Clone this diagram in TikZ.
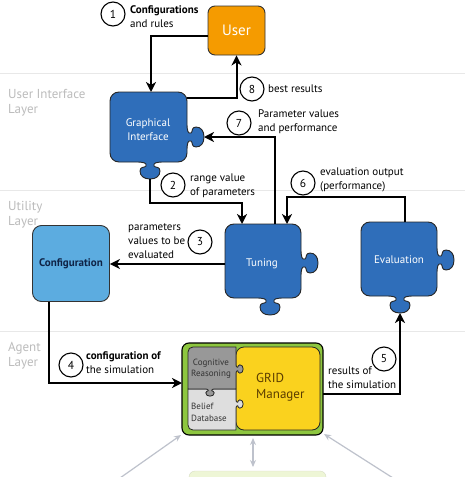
\documentclass[tikz,border=0pt]{standalone}
\usepackage{fontspec}
\setmainfont{PT Sans}
\usetikzlibrary{arrows.meta,calc}
\definecolor{pblue}{RGB}{47,110,186}
\definecolor{cblue}{RGB}{92,172,224}
\definecolor{uorange}{RGB}{245,155,0}
\definecolor{ggreen}{RGB}{141,198,63}
\definecolor{gyellow}{RGB}{250,210,30}
\definecolor{cgray}{RGB}{152,152,152}
\definecolor{bgray}{RGB}{222,222,222}
\definecolor{laygray}{RGB}{188,188,188}
\definecolor{sepgray}{RGB}{232,232,232}
\definecolor{navy}{RGB}{15,35,70}
\definecolor{gbrown}{RGB}{90,60,0}
\definecolor{botgray}{RGB}{190,194,204}
\definecolor{botgreen}{RGB}{238,246,214}
% right-edge tab (edge runs downward), X, cy, scale
\newcommand\tabR[3]{-- ({#1},{#2-14*#3})
 .. controls ({#1},{#2-6*#3}) and ({#1+1*#3},{#2-3*#3}) .. ({#1+4*#3},{#2-4*#3})
 .. controls ({#1+6*#3},{#2-5*#3}) and ({#1+4*#3},{#2-10*#3}) .. ({#1+9*#3},{#2-10*#3})
 .. controls ({#1+14*#3},{#2-10*#3}) and ({#1+17*#3},{#2-6*#3}) .. ({#1+17*#3},{#2})
 .. controls ({#1+17*#3},{#2+6*#3}) and ({#1+14*#3},{#2+10*#3}) .. ({#1+9*#3},{#2+10*#3})
 .. controls ({#1+4*#3},{#2+10*#3}) and ({#1+6*#3},{#2+5*#3}) .. ({#1+4*#3},{#2+4*#3})
 .. controls ({#1+1*#3},{#2+3*#3}) and ({#1},{#2+6*#3}) .. ({#1},{#2+14*#3})}
% bottom-edge tab (edge runs leftward), cx, Y, scale
\newcommand\tabB[3]{-- ({#1+14*#3},{#2})
 .. controls ({#1+6*#3},{#2}) and ({#1+3*#3},{#2+1*#3}) .. ({#1+4*#3},{#2+4*#3})
 .. controls ({#1+5*#3},{#2+6*#3}) and ({#1+10*#3},{#2+4*#3}) .. ({#1+10*#3},{#2+9*#3})
 .. controls ({#1+10*#3},{#2+14*#3}) and ({#1+6*#3},{#2+17*#3}) .. ({#1},{#2+17*#3})
 .. controls ({#1-6*#3},{#2+17*#3}) and ({#1-10*#3},{#2+14*#3}) .. ({#1-10*#3},{#2+9*#3})
 .. controls ({#1-10*#3},{#2+4*#3}) and ({#1-5*#3},{#2+6*#3}) .. ({#1-4*#3},{#2+4*#3})
 .. controls ({#1-3*#3},{#2+1*#3}) and ({#1-6*#3},{#2}) .. ({#1-14*#3},{#2})}
% puzzle piece: L T R B cy cx   (corner radius 9)
\newcommand\puzzlepiece[6]{\path[piece] ({#1+9},{#2}) -- ({#3-9},{#2})
 .. controls ({#3-4},{#2}) and ({#3},{#2+4}) .. ({#3},{#2+9})
 \tabR{#3}{#5}{1} -- ({#3},{#4-9})
 .. controls ({#3},{#4-4}) and ({#3-4},{#4}) .. ({#3-9},{#4})
 \tabB{#6}{#4}{1} -- ({#1+9},{#4})
 .. controls ({#1+4},{#4}) and ({#1},{#4-4}) .. ({#1},{#4-9})
 -- ({#1},{#2+9})
 .. controls ({#1},{#2+4}) and ({#1+4},{#2}) .. ({#1+9},{#2}) -- cycle;}
\begin{document}
\begin{tikzpicture}[x=1pt,y=-1pt,
  arr/.style={line width=2pt,-{Stealth[length=10pt,width=10pt,inset=3pt]},black},
  num/.style={circle,draw,line width=1.1pt,fill=white,minimum size=24pt,inner sep=0pt,font=\fontsize{11.5}{11.5}\selectfont},
  lab/.style={anchor=west,align=left,inner sep=0pt,font=\fontsize{11}{14}\selectfont},
  laylab/.style={anchor=west,align=left,inner sep=0pt,text=laygray,font=\fontsize{13}{15.5}\selectfont},
  piece/.style={fill=pblue,draw=black!85,line width=0.9pt,line join=round},
  ptext/.style={align=center,text=white,inner sep=0pt,font=\fontsize{11}{14}\selectfont},
  sep/.style={draw=sepgray,line width=1pt},
  botarr/.style={draw=botgray,line width=1.2pt,-{Stealth[length=7pt,width=6pt]}},
  small/.style={draw=black!85,line width=0.8pt,line join=round}
]
\useasboundingbox (0,0) rectangle (474,477);
\fill[white] (0,0) rectangle (474,477);
% layer separators
\draw[sep] (0,73) -- (465,73);
\draw[sep] (0,190) -- (465,190);
\draw[sep] (0,331) -- (465,331);
% layer labels
\node[laylab] (lui) at (8,102.5) {User Interface\\Layer};
\node[laylab] (lut) at (8,214.5) {Utility\\Layer};
\node[laylab] (lag) at (8,355.5) {Agent\\Layer};
% bottom faint elements
\draw[fill=botgreen,draw=botgreen!80!gray,rounded corners=6pt] (189,471) rectangle (326,490);
\coordinate (bl) at (120,478);
\coordinate (br) at (393,478);
\coordinate (bmt) at (253,438);
\coordinate (bmb) at (253,467);
\draw[botarr] (bl) -- (181,435);
\draw[botarr] (br) -- (324,434);
\draw[botarr,{Stealth[length=7pt,width=6pt]}-{Stealth[length=7pt,width=6pt]}] (bmb) -- (bmt);
% user
\node[draw=black!80,line width=0.9pt,fill=uorange,rounded corners=7pt,minimum width=57pt,minimum height=49pt,text=white,font=\fontsize{15}{15}\selectfont] (user) at (236.5,30.5) {User};
% configuration
\node[draw=black!80,line width=0.9pt,fill=cblue,rounded corners=9pt,minimum width=77pt,minimum height=76pt,inner sep=0pt,text=navy,font=\bfseries\fontsize{11}{11}\selectfont] (conf) at (71,263.5) {Configuration};
% puzzle pieces
\puzzlepiece{110}{92}{187}{162}{137}{150}
\node[ptext] (gi) at (148,130) {Graphical\\Interface};
\puzzlepiece{225}{224}{301}{298}{263}{270}
\node[ptext] (tun) at (262,264) {Tuning};
\puzzlepiece{361}{222}{437}{296}{260}{400}
\node[ptext] (eva) at (399,260) {Evaluation};
% GRID box
\node[draw=black,line width=1.1pt,fill=ggreen,rounded corners=7pt,minimum width=141pt,minimum height=92pt] (grid) at (252.5,389) {};
\draw[fill=gyellow,draw=black!85,line width=0.8pt,rounded corners=8pt] (236,347) rectangle (320,430);
\draw[small,fill=bgray] (188,389) -- (236,389) \tabR{236}{404}{0.42} -- (236,430) -- (193,430) .. controls (190,430) and (188,428) .. (188,425) -- cycle;
\draw[small,fill=cgray] (188,389) -- (188,352) .. controls (188,349) and (190,347) .. (193,347) -- (236,347) \tabR{236}{369}{0.42} -- (236,389) \tabB{210}{389}{0.42} -- cycle;
\node[align=center,inner sep=0pt,text=black!80,font=\fontsize{9}{11}\selectfont] (cog) at (211,368.5) {Cognitive\\Reasoning};
\node[anchor=west,align=left,inner sep=0pt,text=black!80,font=\fontsize{9}{12}\selectfont] (bel) at (191,412) {Belief\\Database};
\node[anchor=west,align=left,inner sep=0pt,text=gbrown,font=\fontsize{13}{16}\selectfont] (man) at (256,387) {GRID\\Manager};
% connector coordinates
\coordinate (u1) at (208,36);
\coordinate (g1) at (151,92);
\coordinate (g8) at (187,98);
\coordinate (t7) at (275,224);
\coordinate (g7) at (204,137);
\coordinate (g2) at (150,179);
\coordinate (t2) at (242,224);
\coordinate (e6) at (405,222);
\coordinate (t6) at (287,224);
\coordinate (t3) at (225,264);
\coordinate (c4) at (49,301.5);
\coordinate (g4) at (182,383);
\coordinate (g5) at (323,394);
\coordinate (e5) at (400,313);
% connectors
\draw[arr] (u1) -| (g1);
\draw[arr] (g8) -| (user.south);
\draw[arr] (t7) |- (g7);
\draw[arr] (g2) -- ++(0,24) -| (t2);
\draw[arr] (e6) -- ++(0,-25) -| (t6);
\draw[arr] (t3) -- (conf.east |- t3);
\draw[arr] (c4) |- (g4);
\draw[arr] (g5) -| (e5);
% numbers and labels
\node[num] (n1) at (113,14) {1};
\node[lab] (l1) at (130,17) {\textbf{Configurations}\\and rules};
\node[num] (n8) at (252,89) {8};
\node[lab] (l8) at (268,89) {best results};
\node[num] (n7) at (239,123) {7};
\node[lab] (l7) at (258,121.5) {Parameter values\\and performance};
\node[num] (n2) at (173,185) {2};
\node[lab] (l2) at (190,186) {range value\\of parameters};
\node[num] (n6) at (303,183) {6};
\node[lab] (l6) at (320,179.5) {evaluation output\\(performance)};
\node[num] (n3) at (200,242) {3};
\node[lab] (l3) at (128,241) {parameters\\values to be\\evaluated};
\node[num] (n4) at (71,365) {4};
\node[lab] (l4) at (86,363) {\textbf{configuration of}\\the simulation};
\node[num] (n5) at (384,359) {5};
\node[lab] (l5) at (328,378) {results of\\the simulation};
\end{tikzpicture}
\end{document}
